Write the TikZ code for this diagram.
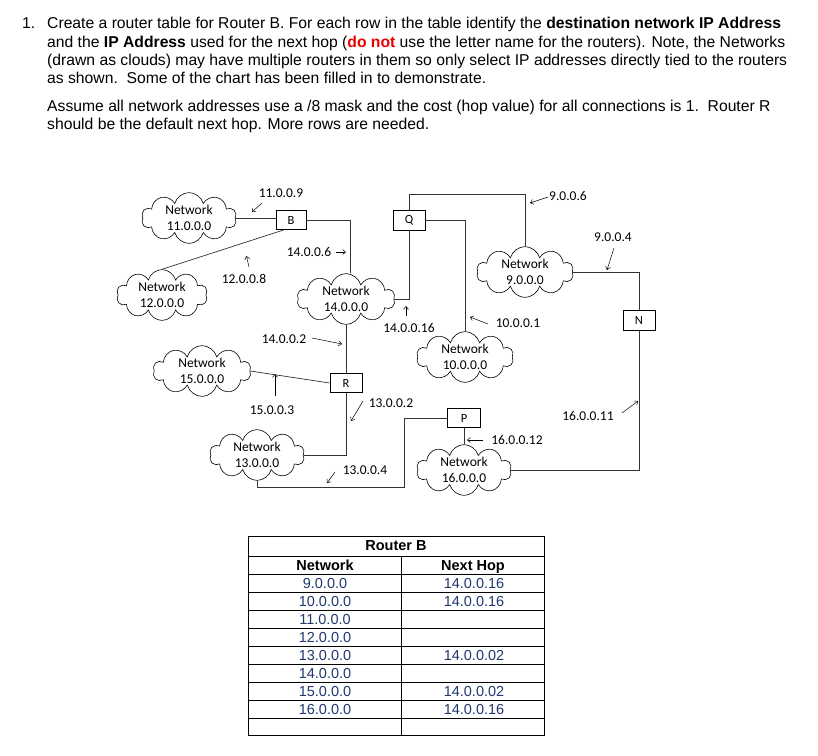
\documentclass[tikz,border=0pt]{standalone}
\usepackage{fontspec}
\setmainfont{Liberation Sans}
\newfontfamily\calib{Carlito}
\usetikzlibrary{shapes.symbols,arrows.meta}
\definecolor{hopblue}{RGB}{32,56,110}
\definecolor{notred}{RGB}{235,0,0}

\begin{document}
\begin{tikzpicture}
[x=1pt, y=-1pt, font=\calib\fontsize{13.5}{16.5}\selectfont]
\tikzstyle{router}=[draw, line width=0.7pt, minimum width=30pt, minimum height=19pt, inner sep=0pt, font=\calib\fontsize{12.5}{14}\selectfont]
\tikzstyle{net}=[cloud, draw, line width=0.6pt, cloud puffs=10, cloud ignores aspect, align=center, inner sep=0pt, minimum width=96pt, minimum height=36pt]
\tikzstyle{addr}=[inner sep=1pt]
\tikzstyle{ptr}=[-{Straight Barb[length=3pt,width=5pt]}, line width=0.5pt]
\tikzstyle{link}=[line width=0.7pt, black!80]
\tikzstyle{para}=[anchor=base west, inner sep=0pt, font=\fontsize{15.7}{18}\selectfont]
\tikzstyle{cell}=[inner sep=0pt, anchor=base, text=hopblue, font=\fontsize{14.5}{17}\selectfont]
\tikzstyle{head}=[inner sep=0pt, anchor=base, font=\bfseries\fontsize{14.5}{17}\selectfont]
\useasboundingbox (0,0) rectangle (818,755);

% question text
\node[para] (num) at (22,28) {1.};
\node[para] (q1) at (47,28) {Create a router table for Router B. For each row in the table identify the \textbf{destination network IP Address}};
\node[para] (q2) at (47,47) {and the \textbf{IP Address} used for the next hop (\textcolor{notred}{\textbf{do not}} use the letter name for the routers). Note, the Networks};
\node[para] (q3) at (47,65.5) {(drawn as clouds) may have multiple routers in them so only select IP addresses directly tied to the routers};
\node[para] (q4) at (47,83.5) {as shown.\ \ Some of the chart has been filled in to demonstrate.};
\node[para] (q5) at (47,111.5) {Assume all network addresses use a /8 mask and the cost (hop value) for all connections is 1.\ \ Router R};
\node[para] (q6) at (47,129.5) {should be the default next hop. More rows are needed.};

% routers
\node[router] (B) at (291,220) {B};
\node[router, minimum width=32pt, minimum height=20pt] (Q) at (409,220) {Q};
\node[router, minimum width=32pt] (R) at (346,383) {R};
\node[router, minimum width=33pt] (P) at (464,418) {P};
\node[router, minimum width=32pt, minimum height=20pt] (N) at (639,320) {N};

% networks
\node[net, minimum width=95pt, minimum height=33pt] (n11) at (189,218) {Network\\11.0.0.0};
\node[net, minimum width=91pt] (n12) at (162,295) {Network\\12.0.0.0};
\node[net, minimum width=98pt, minimum height=38pt] (n14) at (346,299) {Network\\14.0.0.0};
\node[net, minimum width=97pt, minimum height=35pt] (n9) at (525,272) {Network\\9.0.0.0};
\node[net, minimum width=97pt, minimum height=35pt] (n10) at (465,357) {Network\\10.0.0.0};
\node[net, minimum width=98pt, minimum height=35pt] (n15) at (202,371) {Network\\15.0.0.0};
\node[net, minimum width=95pt, minimum height=37pt] (n13) at (257,455) {Network\\13.0.0.0};
\node[net, minimum width=95pt, minimum height=37pt] (n16) at (464,470) {Network\\16.0.0.0};

% links
\coordinate (pbend) at (404,487);
\draw[link] (n11.east) -- (n11.east -| B.west);
\draw[link] ([xshift=-7pt]B.south) -- (n12.north);
\draw[link] (B.east) -| ([xshift=4pt]n14.north);
\draw[link] (n14.east) -| (Q.south);
\draw[link] (Q.north) -- ++(0,-15) -| (n9.north);
\draw[link] (Q.east) -| (n10.north);
\draw[link] (n9.east) -| (N.north);
\draw[link] (N.south) |- (n16.east);
\draw[link] (P.south) -- (n16.north);
\draw[link] (P.west) -| (pbend) -| (n13.south);
\draw[link] (n14.south) -- (R.north);
\draw[link] (n15.east) -- (R.west);
\draw[link] (R.south) |- (n13.east);

% interface addresses
\node[addr] (a11) at (281,193) {11.0.0.9};
\node[addr] (a12) at (244,279) {12.0.0.8};
\node[addr] (a146) at (309,252) {14.0.0.6};
\node[addr] (a1416) at (409,328) {14.0.0.16};
\node[addr] (a906) at (568,196) {9.0.0.6};
\node[addr] (a904) at (613,237) {9.0.0.4};
\node[addr] (a1001) at (518,323) {10.0.0.1};
\node[addr] (a142) at (284,339) {14.0.0.2};
\node[addr] (a153) at (272,410) {15.0.0.3};
\node[addr] (a132) at (391,403) {13.0.0.2};
\node[addr] (a134) at (365,470) {13.0.0.4};
\node[addr] (a1612) at (517,440) {16.0.0.12};
\node[addr] (a1611) at (588,416) {16.0.0.11};

\draw[ptr] ([shift={(-19,10)}]a11.center) -- ++(-10,9);
\draw[ptr] ([shift={(5,-12)}]a12.center) -- ++(-2.5,-11);
\draw[ptr] ([shift={(27,0)}]a146.center) -- ++(10,0);
\draw[ptr] ([shift={(-3,-12)}]a1416.center) -- ++(0,-10);
\draw[ptr] ([shift={(-20,1)}]a906.center) -- ++(-18,6);
\draw[ptr] ([shift={(1,11)}]a904.center) -- ++(-7,22);
\draw[ptr] ([shift={(-30,1)}]a1001.center) -- ++(-18,-7);
\draw[ptr] ([shift={(28,-1)}]a142.center) -- ++(30,6);
\draw[ptr] ([shift={(3,-14)}]a153.center) -- ++(0,-22);
\draw[ptr] ([shift={(-28,-2)}]a132.center) -- ++(-12,20);
\draw[ptr] ([shift={(-30,2)}]a134.center) -- ++(-8,11);
\draw[ptr] ([shift={(-34,0)}]a1612.center) -- ++(-16,0);
\draw[ptr] ([shift={(34,-3)}]a1611.center) -- ++(16,-12);

% router B table
\draw[line width=0.8pt] (248,536) rectangle (544,735);
\draw[line width=0.8pt] (248,556) -- (544,556);
\draw[line width=0.8pt] (401,556) -- (401,735);
\foreach \y in {574,592,...,718}
  \draw[line width=0.6pt] (248,\y) -- (544,\y);
\node[head] (tabhead) at (396,550.5) {Router B};
\node[head] (colnet) at (325,570.5) {Network};
\node[head] (colhop) at (473,570.5) {Next Hop};
\foreach \n/\h [count=\i from 0] in {9.0.0.0/14.0.0.16, 10.0.0.0/14.0.0.16, 11.0.0.0/, 12.0.0.0/, 13.0.0.0/14.0.0.02, 14.0.0.0/, 15.0.0.0/14.0.0.02, 16.0.0.0/14.0.0.16}
{
  \node[cell] (net\i) at (325,588+18*\i) {\n};
  \node[cell] (hop\i) at (474,588+18*\i) {\h};
}
\end{tikzpicture}
\end{document}
